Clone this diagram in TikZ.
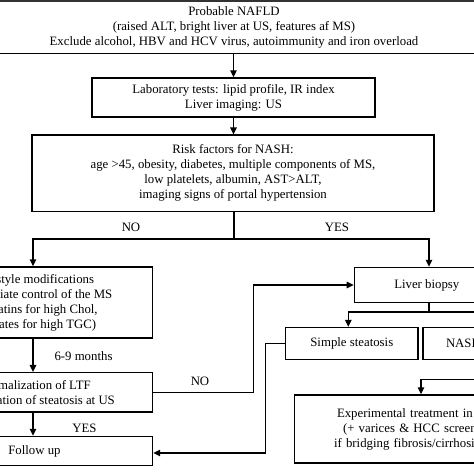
\documentclass[tikz,border=0pt]{standalone}
\usepackage{fontspec}
\setmainfont{Liberation Serif}
\usetikzlibrary{arrows.meta,calc}
\begin{document}
\begin{tikzpicture}[x=1pt,y=-1pt,
  box/.style={draw, line width=1.35pt, inner sep=0pt, align=center,
    font=\fontsize{12.8}{15}\selectfont},
  lbl/.style={inner sep=0pt, font=\fontsize{12.8}{15}\selectfont},
  conn/.style={line width=1.35pt},
  arr/.style={conn, -{Triangle[length=7pt,width=6.5pt]}}]
\useasboundingbox (0,0) rectangle (474,474);
\clip (0,0) rectangle (474,474);
\fill[white] (0,0) rectangle (474,474);
% boxes
\node[box, minimum width=508pt, minimum height=52.5pt] (top) at (234,27.5)
  {Probable NAFLD\\(raised ALT, bright liver at US, features af MS)\\Exclude alcohol, HBV and HCV virus, autoimmunity and iron overload};
\draw[line width=2.2pt, black!80] (0,1.1) -- (474,1.1);
\node[box, minimum width=283pt, minimum height=39pt] (lab) at (233.5,97.5)
  {Laboratory tests: lipid profile, IR index\\Liver imaging: US};
\node[box, minimum width=402pt, minimum height=76.5pt] (risk) at (233,173.3)
  {Risk factors for NASH:\\age >45, obesity, diabetes, multiple components of MS,\\low platelets, albumin, AST>ALT,\\imaging signs of portal hypertension};
\node[box, minimum width=236pt, minimum height=71pt] (life) at (34.5,302.5)
  {Lifestyle modifications\\Appropriate control of the MS\\\hspace*{14pt}(statins for high Chol,\\\hspace*{8pt}fibrates for high TGC)};
\node[box, minimum width=236pt, minimum height=39.5pt] (norm) at (34.5,392.3)
  {Normalization of LTF\\Amelioration of steatosis at US};
\node[box, minimum width=236pt, minimum height=29pt] (follow) at (34.5,451)
  {Follow up};
\node[box, minimum width=145pt, minimum height=35pt] (biopsy) at (426.8,285)
  {Liver biopsy};
\node[box, minimum width=132.5pt, minimum height=32pt] (steat) at (351.8,343.5)
  {Simple steatosis};
\node[box, inner xsep=23pt, text width=90pt, align=left, minimum height=32pt] (nash) at (491,343.5)
  {NASH};
\node[box, text width=253pt, align=left, minimum height=68pt] (exp) at (421,429)
  {\hspace*{42.5pt}Experimental treatment in clinical trials\\
   \hspace*{48.5pt}(+ varices \& HCC screening\\
   \hspace*{39.5pt}if bridging fibrosis/cirrhosis)};
% connectors
\draw[arr] (top.south -| lab.north) -- (lab.north);
\draw[arr] (lab.south) -- (lab.south |- risk.north);
\coordinate (split) at (234,239);
\draw[conn] (risk.south -| split) -- (split);
\draw[arr] (split) -| ([xshift=-1.5pt]life.north);
\draw[arr] (split) -| ([xshift=2.2pt]biopsy.north);
\node[lbl] (no1) at (131,227) {NO};
\node[lbl] (yes1) at (337,227) {YES};
\draw[arr] ([xshift=-1.5pt]life.south) -- ([xshift=-1.5pt]norm.north);
\node[lbl] (months) at (83.5,356) {6-9 months};
\draw[arr] ([xshift=-1.5pt]norm.south) -- ([xshift=-1.5pt]follow.north);
\node[lbl] (yes2) at (84.5,428) {YES};
\draw[arr] (norm.east) -- (253.5,392.3) |- (biopsy.west);
\node[lbl] (no2) at (200,381.5) {NO};
\coordinate (bsplit) at (429,312);
\draw[conn] ([xshift=2.2pt]biopsy.south) -- (bsplit);
\draw[arr] (bsplit) -| ([xshift=-3.5pt]steat.north);
\draw[arr] (bsplit) -| (nash.north);
\draw[arr] (steat.west) -- (265.7,343.5) |- ([yshift=-2pt]follow.east);
\draw[arr] (nash.south) -- ++(0,19.5) -| (exp.north);
\end{tikzpicture}
\end{document}
